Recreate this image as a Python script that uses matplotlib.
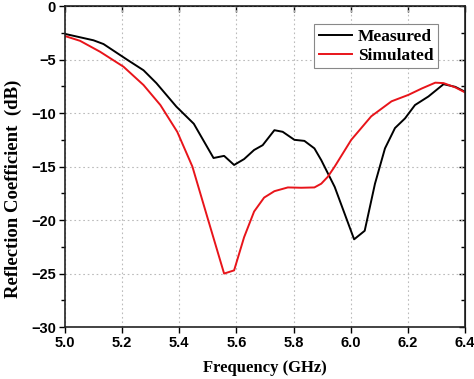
import matplotlib

matplotlib.use("Agg")
import matplotlib.pyplot as plt
from matplotlib.ticker import MultipleLocator

# measured reflection coefficient
meas_f = [5.000, 5.100, 5.135, 5.217, 5.275, 5.320, 5.390, 5.451, 5.520, 5.557,
          5.592, 5.627, 5.662, 5.692, 5.733, 5.762, 5.803, 5.838, 5.873, 5.897,
          5.944, 6.012, 6.049, 6.085, 6.120, 6.155, 6.190, 6.225, 6.272, 6.325,
          6.366, 6.407]
meas_db = [-2.6, -3.2, -3.55, -5.0, -6.0, -7.2, -9.4, -11.0, -14.2, -14.0,
           -14.85, -14.3, -13.45, -13.0, -11.6, -11.75, -12.5, -12.6, -13.3, -14.4,
           -16.9, -21.8, -21.0, -16.6, -13.3, -11.4, -10.5, -9.25, -8.45, -7.3,
           -7.55, -8.1]

# simulated
sim_f = [5.000, 5.053, 5.123, 5.205, 5.275, 5.334, 5.393, 5.446, 5.498, 5.557,
         5.592, 5.627, 5.662, 5.697, 5.733, 5.780, 5.827, 5.873, 5.897, 5.920,
         5.944, 6.002, 6.072, 6.143, 6.202, 6.249, 6.296, 6.325, 6.366, 6.407]
sim_db = [-2.8, -3.25, -4.27, -5.67, -7.38, -9.25, -11.75, -15.0, -19.7, -25.0,
          -24.7, -21.6, -19.2, -17.9, -17.3, -16.95, -16.98, -16.95, -16.6, -15.95,
          -15.0, -12.5, -10.3, -8.9, -8.3, -7.7, -7.16, -7.2, -7.6, -8.16]

fig = plt.figure(figsize=(4.74, 3.79), dpi=100)
ax = fig.add_axes([0.137, 0.137, 0.844, 0.847])

ax.plot(meas_f, meas_db, color="black", lw=1.4, label="Measured")
ax.plot(sim_f, sim_db, color="#e8141a", lw=1.4, label="Simulated")

ax.set_xlim(5.0, 6.4)
ax.set_ylim(-30, 0)
ax.xaxis.set_major_locator(MultipleLocator(0.2))
ax.yaxis.set_major_locator(MultipleLocator(5))
ax.yaxis.set_minor_locator(MultipleLocator(2.5))
ax.grid(True, which="major", color="#bbbbbb", ls=(0, (1.5, 2.5)), lw=0.8)

ax.tick_params(which="both", direction="out", width=1.0, top=False, right=False)
ax.tick_params(which="major", length=4, pad=2.5)
ax.tick_params(which="minor", length=3)
ax.tick_params(labelsize=10.5)
for lab in ax.get_xticklabels() + ax.get_yticklabels():
    lab.set_fontweight("bold")
    lab.set_family("Liberation Sans")

# mirrored inward ticks on top / right
sec_x = ax.secondary_xaxis("top")
sec_x.xaxis.set_major_locator(MultipleLocator(0.2))
sec_x.tick_params(direction="in", length=4, width=1.0, labeltop=False)
sec_y = ax.secondary_yaxis("right")
sec_y.yaxis.set_major_locator(MultipleLocator(5))
sec_y.yaxis.set_minor_locator(MultipleLocator(2.5))
sec_y.tick_params(which="both", direction="in", width=1.0, labelright=False)
sec_y.tick_params(which="major", length=4)
sec_y.tick_params(which="minor", length=3)

for s in list(ax.spines.values()):
    s.set_linewidth(1.2)
    s.set_color("#222222")

ax.set_xlabel("Frequency (GHz)", family="Liberation Serif", fontweight="bold",
              fontsize=12, labelpad=7)
ax.set_ylabel("Reflection Coefficient  (dB)", family="Liberation Serif",
              fontweight="bold", fontsize=13.5)
ax.yaxis.set_label_coords(-0.108, 0.43)

leg = ax.legend(loc="upper right", bbox_to_anchor=(0.932, 0.943), fancybox=False,
                framealpha=1, edgecolor="#888888", handlelength=1.9,
                borderpad=0.25, labelspacing=0.15, handletextpad=0.35,
                borderaxespad=0,
                prop={"family": "Liberation Serif", "weight": "bold", "size": 12.5})
leg.get_frame().set_linewidth(0.8)

fig.savefig("out.png", dpi=100)
